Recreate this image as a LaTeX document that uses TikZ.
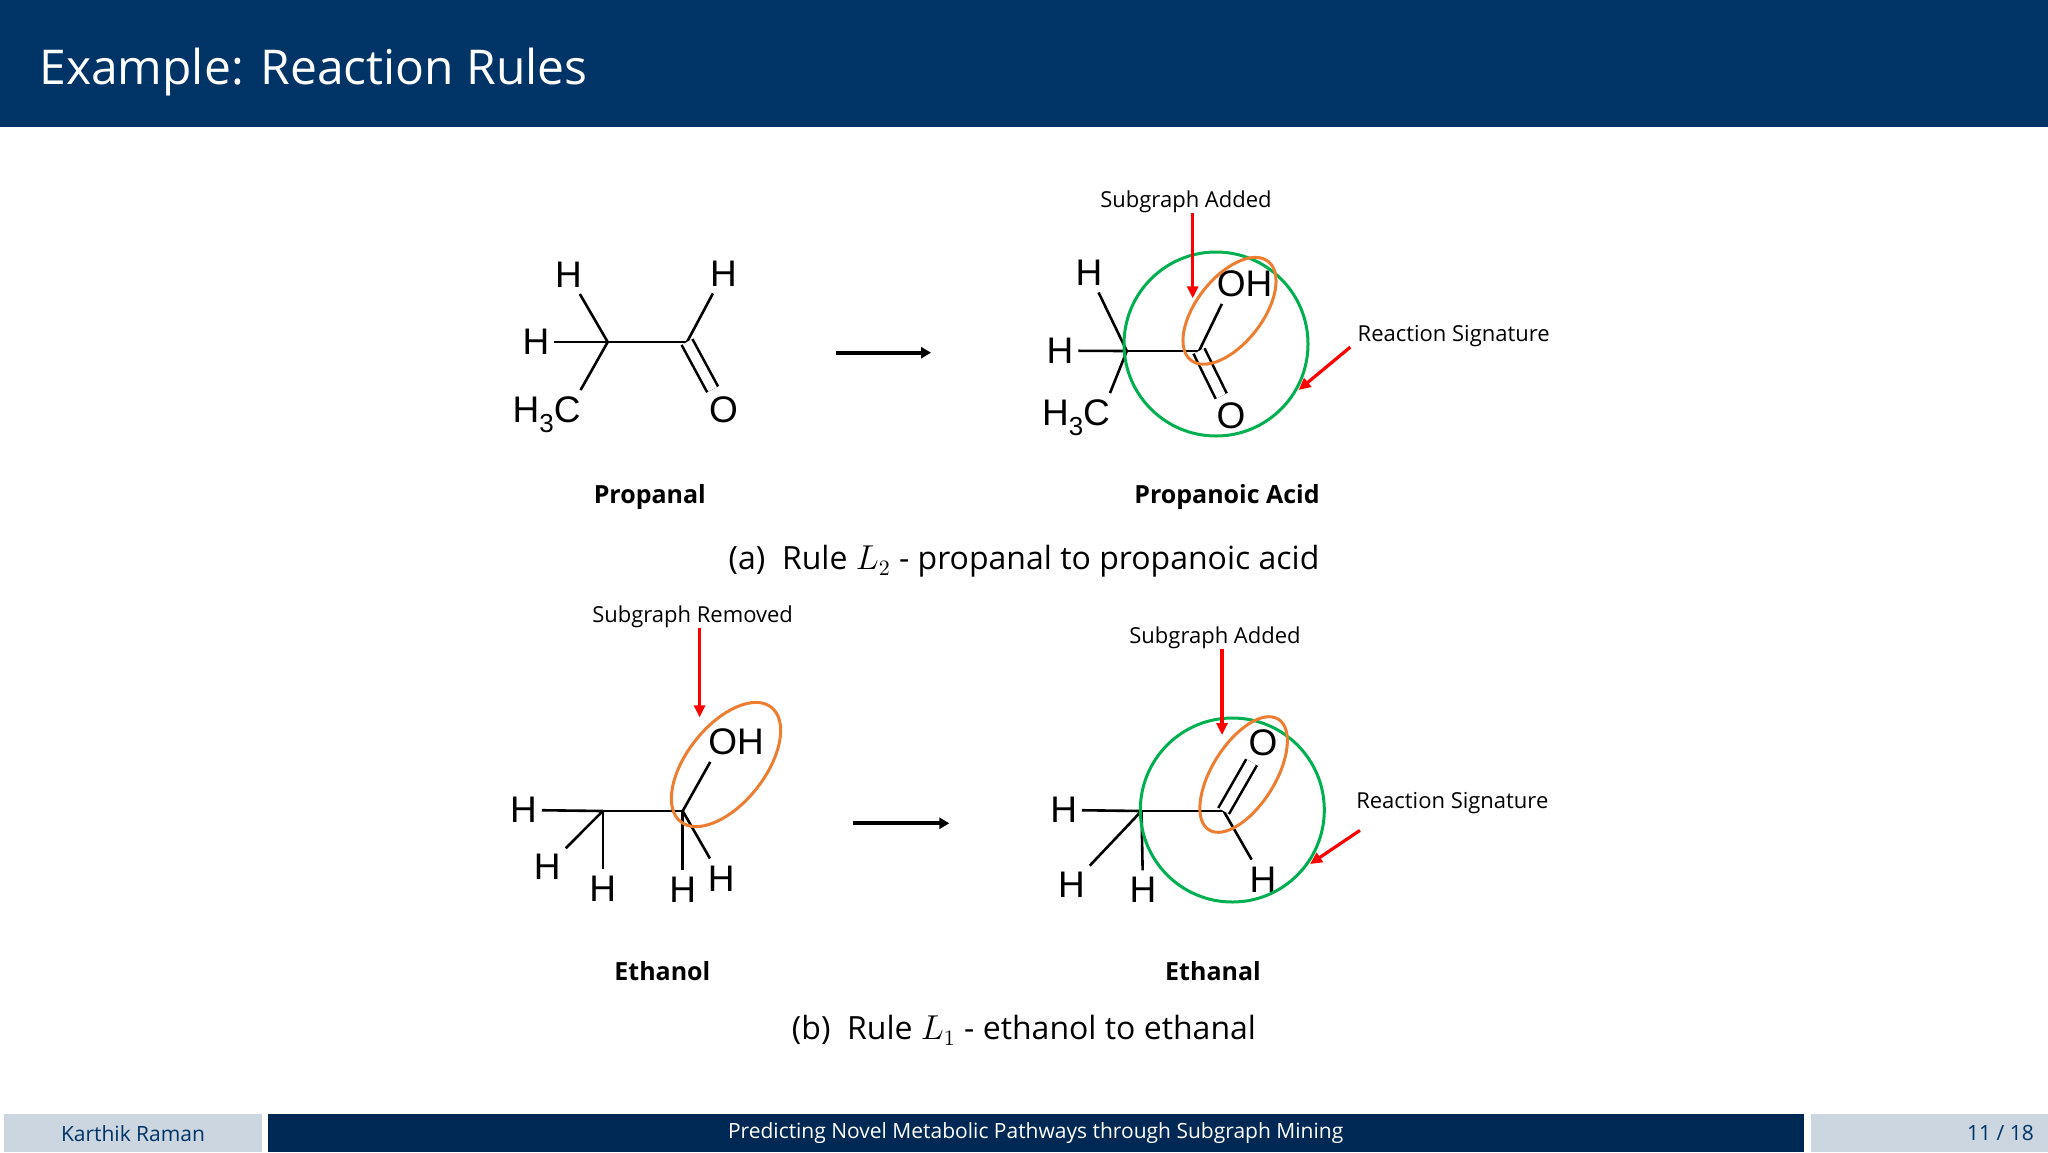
\documentclass[tikz,border=0pt]{standalone}
\usepackage{fontspec}
\setmainfont{Open Sans}
\usetikzlibrary{shapes, arrows.meta, positioning}
\definecolor{slidenavy}{HTML}{003366}
\definecolor{footnavy}{HTML}{002855}
\definecolor{footpale}{HTML}{CCD6E0}
\definecolor{ringgreen}{HTML}{00B050}
\definecolor{ringorange}{HTML}{ED7D31}
\newcommand{\methyl}{H\raisebox{-5pt}{\fontsize{13pt}{13pt}\selectfont 3}C}
\tikzset{
	atom/.style={font=\fontspec{Liberation Sans}\fontsize{18.5pt}{18.5pt}\selectfont, inner xsep=2.5pt, inner ysep=3.5pt, text depth=0pt, outer sep=0pt},
	bond/.style={line width=1.3pt},
	dbond/.style={line width=1.3pt, double, double distance=4.8pt},
	rxnarrow/.style={line width=2pt, -{Triangle[length=5pt,width=5.5pt]}},
	redarrow/.style={red, line width=1.6pt, -{Triangle[length=6pt,width=5.5pt]}},
	greenring/.style={circle, draw=ringgreen, line width=1.5pt, minimum size=92pt, inner sep=0pt, outer sep=0pt},
	orangering/.style={ellipse, draw=ringorange, line width=1.5pt, inner sep=0pt, outer sep=0pt},
	note/.style={font=\fontsize{11pt}{13pt}\selectfont, inner sep=0pt},
	molname/.style={font=\bfseries\fontsize{12.5pt}{15pt}\selectfont, inner sep=0pt},
	caption/.style={font=\fontsize{16pt}{19pt}\selectfont, inner sep=0pt},
	footbox/.style={anchor=north west, inner sep=0pt, minimum height=19pt, font=\fontsize{10.5pt}{12pt}\selectfont}
}
\begin{document}
\begin{tikzpicture}[x=0.5pt,y=-0.5pt]
	\useasboundingbox (0,0) rectangle (2048,1152);
	% header
	\node[fill=slidenavy, anchor=north west, minimum width=1024pt, minimum height=63.4pt, inner sep=0pt] (header) at (0,0) {};
	\node[anchor=west, inner sep=0pt, white, font=\fontsize{24pt}{28pt}\selectfont] (title) at (39,72) {Example: Reaction Rules};
	% propanal
	\coordinate (pc1) at (607.7,342);
	\coordinate (pc2) at (687,342);
	\node[atom] (ph1) at (568.4,274.3) {H};
	\node[atom] (ph2) at (536,342) {H};
	\node[atom, inner xsep=0pt] (pch3) at (546.6,410) {\methyl};
	\node[atom] (ph3) at (723.4,273.7) {H};
	\node[atom] (po) at (723.4,409.3) {O};
	\draw[bond] (pc1) -- (ph1);
	\draw[bond] (pc1) -- (ph2);
	\draw[bond] (pc1) -- (pch3.north east);
	\draw[bond] (pc1) -- (pc2);
	\draw[bond] (pc2) -- (ph3);
	\draw[dbond] (pc2) -- (po);
	\node[molname] (propanal) at (649.8,496.7) {Propanal};
	\coordinate (arrowa) at (836.4,352.7);
	\coordinate (arrowb) at (931,352.7);
	\draw[rxnarrow] (arrowa) -- (arrowb);
	% propanoic acid
	\coordinate (ac1) at (1126.8,351);
	\coordinate (ac2) at (1199,351);
	\node[atom] (ah1) at (1089,272.7) {H};
	\node[atom] (ah2) at (1060,350.7) {H};
	\node[atom, inner xsep=0pt] (ach3) at (1076,413) {\methyl};
	\node[atom] (aoh) at (1244.6,284) {OH};
	\node[atom] (ao) at (1231,416) {O};
	\draw[bond] (ac1) -- (ah1);
	\draw[bond] (ac1) -- (ah2);
	\draw[bond] (ac1) -- (ach3.north east);
	\draw[bond] (ac1) -- (ac2);
	\draw[bond] (ac2) -- ([xshift=5pt]aoh.south west);
	\draw[dbond] (ac2) -- (ao);
	\node[greenring] (asig) at (1216,344) {};
	\node[orangering, rotate=52, minimum width=62.7pt, minimum height=33pt] (aadd) at (1229.5,310.8) {};
	\node[molname] (propacid) at (1227,496.7) {Propanoic Acid};
	\node[note] (addlabel) at (1186,202) {Subgraph Added};
	\coordinate (addtip) at (1192.7,298.3);
	\draw[redarrow] (addlabel.south -| addtip) -- (addtip);
	\node[note] (siglabel) at (1453.7,336) {Reaction Signature};
	\coordinate (sigtip) at (1298.6,390);
	\draw[redarrow] ([xshift=-3.5pt]siglabel.south west) -- (sigtip);
	\node[caption] (capa) at (1024,561.6) {(a)\ \ Rule $L_2$ - propanal to propanoic acid};
	% ethanol
	\coordinate (nc1) at (602.8,811);
	\coordinate (nc2) at (682.7,811);
	\node[atom] (nh1) at (523.5,810) {H};
	\node[atom] (nh2) at (547.3,866.7) {H};
	\node[atom] (nh3) at (602.8,889) {H};
	\node[atom] (nh4) at (682.7,889.3) {H};
	\node[atom] (nh5) at (721.3,878.3) {H};
	\node[atom] (noh) at (736,742) {OH};
	\draw[bond] (nc1) -- (nh1);
	\draw[bond] (nc1) -- (nh2);
	\draw[bond] (nc1) -- (nh3);
	\draw[bond] (nc1) -- (nc2);
	\draw[bond] (nc2) -- (nh4);
	\draw[bond] (nc2) -- (nh5);
	\draw[bond] (nc2) -- ([xshift=3.5pt]noh.south west);
	\node[orangering, rotate=51.6, minimum width=73pt, minimum height=38.9pt] (nrem) at (726,764.5) {};
	\node[molname] (ethanol) at (662.4,970.7) {Ethanol};
	\node[note] (remlabel) at (692.6,616.7) {Subgraph Removed};
	\coordinate (remtip) at (699.6,717.3);
	\draw[redarrow] (remlabel.south -| remtip) -- (remtip);
	\coordinate (arrowc) at (852.5,823.3);
	\coordinate (arrowd) at (949.3,823.3);
	\draw[rxnarrow] (arrowc) -- (arrowd);
	% ethanal
	\coordinate (lc1) at (1141.5,811);
	\coordinate (lc2) at (1223.6,811);
	\node[atom] (lh1) at (1063.6,810) {H};
	\node[atom] (lh2) at (1071.4,885) {H};
	\node[atom] (lh3) at (1143,890) {H};
	\node[atom] (lh4) at (1263,879.3) {H};
	\node[atom] (lo) at (1263,742.3) {O};
	\draw[bond] (lc1) -- (lh1);
	\draw[bond] (lc1) -- (lh2);
	\draw[bond] (lc1) -- (lh3);
	\draw[bond] (lc1) -- (lc2);
	\draw[bond] (lc2) -- (lh4);
	\draw[dbond] (lc2) -- (lo);
	\node[greenring] (lsig) at (1232.3,810) {};
	\node[orangering, rotate=57.9, minimum width=65.3pt, minimum height=31.5pt] (ladd) at (1243.6,774.5) {};
	\node[molname] (ethanal) at (1213,970.7) {Ethanal};
	\node[note] (addlabelb) at (1215,637.3) {Subgraph Added};
	\coordinate (addtipb) at (1222,735);
	\draw[redarrow] (addlabelb.south -| addtipb) -- (addtipb);
	\node[note] (siglabelb) at (1452.3,803.3) {Reaction Signature};
	\coordinate (sigtipb) at (1310,864);
	\draw[redarrow] ([xshift=2pt,yshift=-8pt]siglabelb.south west) -- (sigtipb);
	\node[caption] (capb) at (1024,1030.4) {(b)\ \ Rule $L_1$ - ethanol to ethanal};
	% footer
	\node[footbox, fill=footpale, minimum width=128.6pt, text=slidenavy] (footl) at (4,1114) {\scshape Karthik Raman};
	\node[footbox, fill=footnavy, minimum width=768pt, text=white, right=2.6pt of footl] (footm) {Predicting Novel Metabolic Pathways through Subgraph Mining};
	\node[footbox, fill=footpale, minimum width=119.5pt, text=slidenavy, anchor=west, right=3.3pt of footm] (footr) {\hspace{70pt}11 / 18};
\end{tikzpicture}
\end{document}
